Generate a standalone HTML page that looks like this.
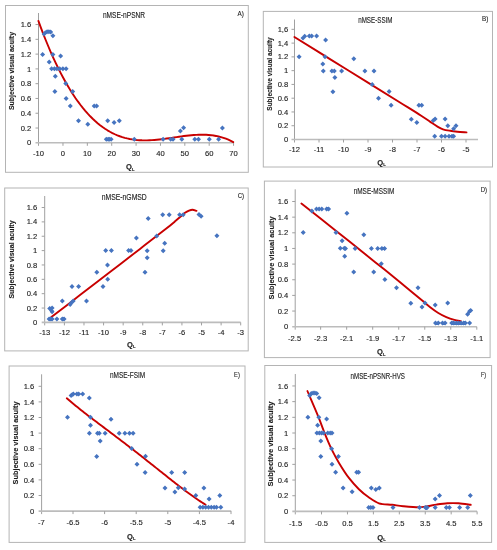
<!DOCTYPE html>
<html><head><meta charset="utf-8"><title>Figure</title>
<style>
html,body{margin:0;padding:0;background:#fff;}
body{width:497px;height:550px;overflow:hidden;}
svg{display:block;font-family:"Liberation Sans",sans-serif;}
#w{width:497px;height:550px;will-change:transform;}
text{stroke:#222;stroke-width:0.12px;}
</style></head>
<body>
<div id="w">
<svg width="497" height="550" viewBox="0 0 497 550">
<rect width="497" height="550" fill="#fff"/>
<rect x="5.5" y="5.5" width="242.8" height="166.8" fill="#fff" stroke="#b4b4b4" stroke-width="1"/>
<path d="M38.5 13 V145.8" stroke="#a0a0a0" stroke-width="1" fill="none"/>
<path d="M35.5 142.8 H233.8" stroke="#bcbcbc" stroke-width="1.6" fill="none"/>
<text x="31.2" y="145.4" font-size="7.6" text-anchor="end" fill="#1a1a1a">0</text>
<text x="31.2" y="130.62" font-size="7.6" text-anchor="end" fill="#1a1a1a">0.2</text>
<text x="31.2" y="115.84" font-size="7.6" text-anchor="end" fill="#1a1a1a">0.4</text>
<text x="31.2" y="101.06" font-size="7.6" text-anchor="end" fill="#1a1a1a">0.6</text>
<text x="31.2" y="86.28" font-size="7.6" text-anchor="end" fill="#1a1a1a">0.8</text>
<text x="31.2" y="71.5" font-size="7.6" text-anchor="end" fill="#1a1a1a">1</text>
<text x="31.2" y="56.72" font-size="7.6" text-anchor="end" fill="#1a1a1a">1.2</text>
<text x="31.2" y="41.94" font-size="7.6" text-anchor="end" fill="#1a1a1a">1.4</text>
<text x="31.2" y="27.16" font-size="7.6" text-anchor="end" fill="#1a1a1a">1.6</text>
<text x="38.6" y="155.8" font-size="7.6" text-anchor="middle" fill="#1a1a1a">-10</text>
<text x="62.97" y="155.8" font-size="7.6" text-anchor="middle" fill="#1a1a1a">0</text>
<text x="87.34" y="155.8" font-size="7.6" text-anchor="middle" fill="#1a1a1a">10</text>
<text x="111.71" y="155.8" font-size="7.6" text-anchor="middle" fill="#1a1a1a">20</text>
<text x="136.08" y="155.8" font-size="7.6" text-anchor="middle" fill="#1a1a1a">30</text>
<text x="160.45" y="155.8" font-size="7.6" text-anchor="middle" fill="#1a1a1a">40</text>
<text x="184.82" y="155.8" font-size="7.6" text-anchor="middle" fill="#1a1a1a">50</text>
<text x="209.19" y="155.8" font-size="7.6" text-anchor="middle" fill="#1a1a1a">60</text>
<text x="233.56" y="155.8" font-size="7.6" text-anchor="middle" fill="#1a1a1a">70</text>
<path d="M35.5 128.02H38.5 M35.5 113.24H38.5 M35.5 98.46H38.5 M35.5 83.68H38.5 M35.5 68.9H38.5 M35.5 54.12H38.5 M35.5 39.34H38.5 M35.5 24.56H38.5 M62.97 142.8V145.8 M87.34 142.8V145.8 M111.71 142.8V145.8 M136.08 142.8V145.8 M160.45 142.8V145.8 M184.82 142.8V145.8 M209.19 142.8V145.8 M233.56 142.8V145.8" stroke="#a0a0a0" stroke-width="1" fill="none"/>
<text x="124" y="17.7" font-size="8.4" text-anchor="middle" textLength="42.2" lengthAdjust="spacingAndGlyphs" fill="#1a1a1a">nMSE-nPSNR</text>
<text x="240.65" y="16.4" font-size="7.6" text-anchor="middle" textLength="6.3" lengthAdjust="spacingAndGlyphs" fill="#1a1a1a">A)</text>
<text x="0" y="0" font-size="7.6" font-weight="bold" text-anchor="middle" fill="#1a1a1a" textLength="78" lengthAdjust="spacingAndGlyphs" transform="translate(14.2 71) rotate(-90)">Subjective visual acuity</text>
<text x="126" y="169.3" font-size="7.6" font-weight="bold" fill="#1a1a1a">Q<tspan font-size="4.2" dy="1.4">L</tspan></text>
<path d="M38.4 20.91 L40.87 27.6 L43.33 34.05 L45.8 40.27 L48.27 46.25 L50.74 52.01 L53.2 57.55 L55.67 62.87 L58.14 67.97 L60.6 72.86 L63.07 77.54 L65.54 82.02 L68.01 86.29 L70.47 90.37 L72.94 94.25 L75.41 97.94 L77.87 101.44 L80.34 104.76 L82.81 107.9 L85.27 110.86 L87.74 113.66 L90.21 116.28 L92.68 118.74 L95.14 121.05 L97.61 123.2 L100.08 125.19 L102.54 127.04 L105.01 128.75 L107.48 130.32 L109.95 131.76 L112.41 133.06 L114.88 134.25 L117.35 135.31 L119.81 136.25 L122.28 137.09 L124.75 137.81 L127.22 138.44 L129.68 138.97 L132.15 139.4 L134.62 139.75 L137.08 140.02 L139.55 140.2 L142.02 140.32 L144.48 140.36 L146.95 140.35 L149.42 140.27 L151.89 140.14 L154.35 139.97 L156.82 139.75 L159.29 139.49 L161.75 139.2 L164.22 138.89 L166.69 138.55 L169.16 138.2 L171.62 137.83 L174.09 137.46 L176.56 137.1 L179.02 136.73 L181.49 136.38 L183.96 136.05 L186.43 135.74 L188.89 135.46 L191.36 135.21 L193.83 135 L196.29 134.84 L198.76 134.73 L201.23 134.68 L203.69 134.69 L206.16 134.78 L208.63 134.94 L211.1 135.18 L213.56 135.51 L216.03 135.94 L218.5 136.46 L220.96 137.1 L223.43 137.85 L225.9 138.71 L228.37 139.71 L230.83 140.84 L233.3 142.1" stroke="#c80000" stroke-width="1.9" fill="none" stroke-linecap="round" stroke-linejoin="round"/>
<path d="M42.6 51.9l2.5 2.5l-2.5 2.5l-2.5 -2.5zM44.1 31.4l2.5 2.5l-2.5 2.5l-2.5 -2.5zM45.3 30.2l2.5 2.5l-2.5 2.5l-2.5 -2.5zM47.1 29.3l2.5 2.5l-2.5 2.5l-2.5 -2.5zM48.9 29.3l2.5 2.5l-2.5 2.5l-2.5 -2.5zM50.7 29.6l2.5 2.5l-2.5 2.5l-2.5 -2.5zM52.9 33.2l2.5 2.5l-2.5 2.5l-2.5 -2.5zM52.9 51.9l2.5 2.5l-2.5 2.5l-2.5 -2.5zM60.6 53.4l2.5 2.5l-2.5 2.5l-2.5 -2.5zM49.2 59.4l2.5 2.5l-2.5 2.5l-2.5 -2.5zM51.6 66.3l2.5 2.5l-2.5 2.5l-2.5 -2.5zM54.4 66.3l2.5 2.5l-2.5 2.5l-2.5 -2.5zM56.9 66.3l2.5 2.5l-2.5 2.5l-2.5 -2.5zM59.7 66.3l2.5 2.5l-2.5 2.5l-2.5 -2.5zM62.9 66.3l2.5 2.5l-2.5 2.5l-2.5 -2.5zM66.1 66.3l2.5 2.5l-2.5 2.5l-2.5 -2.5zM55.3 73.7l2.5 2.5l-2.5 2.5l-2.5 -2.5zM65.8 81.1l2.5 2.5l-2.5 2.5l-2.5 -2.5zM54.9 88.9l2.5 2.5l-2.5 2.5l-2.5 -2.5zM72.7 88.9l2.5 2.5l-2.5 2.5l-2.5 -2.5zM66.1 96.1l2.5 2.5l-2.5 2.5l-2.5 -2.5zM70.3 103.4l2.5 2.5l-2.5 2.5l-2.5 -2.5zM94.2 103.6l2.5 2.5l-2.5 2.5l-2.5 -2.5zM96.6 103.6l2.5 2.5l-2.5 2.5l-2.5 -2.5zM78.5 118.2l2.5 2.5l-2.5 2.5l-2.5 -2.5zM87.8 121.8l2.5 2.5l-2.5 2.5l-2.5 -2.5zM107.7 118.2l2.5 2.5l-2.5 2.5l-2.5 -2.5zM114.1 120l2.5 2.5l-2.5 2.5l-2.5 -2.5zM119.3 118.2l2.5 2.5l-2.5 2.5l-2.5 -2.5zM106.3 136.8l2.5 2.5l-2.5 2.5l-2.5 -2.5zM108.1 136.8l2.5 2.5l-2.5 2.5l-2.5 -2.5zM109.3 136.8l2.5 2.5l-2.5 2.5l-2.5 -2.5zM111.1 136.8l2.5 2.5l-2.5 2.5l-2.5 -2.5zM134.3 136.8l2.5 2.5l-2.5 2.5l-2.5 -2.5zM163.1 136.8l2.5 2.5l-2.5 2.5l-2.5 -2.5zM170.7 136.8l2.5 2.5l-2.5 2.5l-2.5 -2.5zM173 136.8l2.5 2.5l-2.5 2.5l-2.5 -2.5zM181.8 136.8l2.5 2.5l-2.5 2.5l-2.5 -2.5zM194.8 136.8l2.5 2.5l-2.5 2.5l-2.5 -2.5zM198.5 136.8l2.5 2.5l-2.5 2.5l-2.5 -2.5zM209.3 136.8l2.5 2.5l-2.5 2.5l-2.5 -2.5zM218.6 136.8l2.5 2.5l-2.5 2.5l-2.5 -2.5zM180.4 128.5l2.5 2.5l-2.5 2.5l-2.5 -2.5zM183.6 125.3l2.5 2.5l-2.5 2.5l-2.5 -2.5zM222.4 125.5l2.5 2.5l-2.5 2.5l-2.5 -2.5z" fill="#4674c0"/>
<rect x="263.3" y="11.4" width="229.2" height="155.6" fill="#fff" stroke="#b4b4b4" stroke-width="1"/>
<path d="M294.5 19.5 V142.5" stroke="#a0a0a0" stroke-width="1" fill="none"/>
<path d="M291.5 139.5 H478" stroke="#bcbcbc" stroke-width="1.6" fill="none"/>
<text x="288.2" y="142.1" font-size="7.6" text-anchor="end" fill="#1a1a1a">0</text>
<text x="288.2" y="128.33" font-size="7.6" text-anchor="end" fill="#1a1a1a">0.2</text>
<text x="288.2" y="114.56" font-size="7.6" text-anchor="end" fill="#1a1a1a">0.4</text>
<text x="288.2" y="100.79" font-size="7.6" text-anchor="end" fill="#1a1a1a">0.6</text>
<text x="288.2" y="87.02" font-size="7.6" text-anchor="end" fill="#1a1a1a">0.8</text>
<text x="288.2" y="73.25" font-size="7.6" text-anchor="end" fill="#1a1a1a">1</text>
<text x="288.2" y="59.48" font-size="7.6" text-anchor="end" fill="#1a1a1a">1.2</text>
<text x="288.2" y="45.71" font-size="7.6" text-anchor="end" fill="#1a1a1a">1,4</text>
<text x="288.2" y="31.94" font-size="7.6" text-anchor="end" fill="#1a1a1a">1,6</text>
<text x="294.5" y="152.2" font-size="7.6" text-anchor="middle" fill="#1a1a1a">-12</text>
<text x="319" y="152.2" font-size="7.6" text-anchor="middle" fill="#1a1a1a">-11</text>
<text x="343.5" y="152.2" font-size="7.6" text-anchor="middle" fill="#1a1a1a">-10</text>
<text x="368" y="152.2" font-size="7.6" text-anchor="middle" fill="#1a1a1a">-9</text>
<text x="392.5" y="152.2" font-size="7.6" text-anchor="middle" fill="#1a1a1a">-8</text>
<text x="417" y="152.2" font-size="7.6" text-anchor="middle" fill="#1a1a1a">-7</text>
<text x="441.5" y="152.2" font-size="7.6" text-anchor="middle" fill="#1a1a1a">-6</text>
<text x="466" y="152.2" font-size="7.6" text-anchor="middle" fill="#1a1a1a">-5</text>
<path d="M291.5 125.73H294.5 M291.5 111.96H294.5 M291.5 98.19H294.5 M291.5 84.42H294.5 M291.5 70.65H294.5 M291.5 56.88H294.5 M291.5 43.11H294.5 M291.5 29.34H294.5 M319 139.5V142.5 M343.5 139.5V142.5 M368 139.5V142.5 M392.5 139.5V142.5 M417 139.5V142.5 M441.5 139.5V142.5 M466 139.5V142.5" stroke="#a0a0a0" stroke-width="1" fill="none"/>
<text x="375.35" y="22.7" font-size="8.4" text-anchor="middle" textLength="34.3" lengthAdjust="spacingAndGlyphs" fill="#1a1a1a">nMSE-SSIM</text>
<text x="485.15" y="21.1" font-size="7.6" text-anchor="middle" textLength="6.3" lengthAdjust="spacingAndGlyphs" fill="#1a1a1a">B)</text>
<text x="0" y="0" font-size="7.6" font-weight="bold" text-anchor="middle" fill="#1a1a1a" textLength="73.4" lengthAdjust="spacingAndGlyphs" transform="translate(272 74) rotate(-90)">Subjective visual acuity</text>
<text x="377.3" y="164.8" font-size="7.6" font-weight="bold" fill="#1a1a1a">Q<tspan font-size="4.2" dy="1.4">L</tspan></text>
<path d="M294.4 37 C300.33 40.68 317.4 51.28 330 59.1 C342.6 66.92 358.33 76.67 370 83.9 C381.67 91.13 391.47 97.2 400 102.5 C408.53 107.8 416.15 112.47 421.2 115.7 C426.25 118.93 427.58 120.08 430.3 121.9 C433.02 123.72 435.38 125.37 437.5 126.6 C439.62 127.83 440.88 128.6 443 129.3 C445.12 130 447.8 130.4 450.2 130.8 C452.6 131.2 454.68 131.43 457.4 131.7 C460.12 131.97 464.98 132.28 466.5 132.4" stroke="#c80000" stroke-width="1.9" fill="none" stroke-linecap="round" stroke-linejoin="round"/>
<path d="M299.1 54.3l2.5 2.5l-2.5 2.5l-2.5 -2.5zM303 35.6l2.5 2.5l-2.5 2.5l-2.5 -2.5zM304.7 33.8l2.5 2.5l-2.5 2.5l-2.5 -2.5zM309.3 33.6l2.5 2.5l-2.5 2.5l-2.5 -2.5zM311.7 33.6l2.5 2.5l-2.5 2.5l-2.5 -2.5zM316.6 33.6l2.5 2.5l-2.5 2.5l-2.5 -2.5zM325.6 37.4l2.5 2.5l-2.5 2.5l-2.5 -2.5zM325 54.3l2.5 2.5l-2.5 2.5l-2.5 -2.5zM322.8 61.6l2.5 2.5l-2.5 2.5l-2.5 -2.5zM323.3 68.4l2.5 2.5l-2.5 2.5l-2.5 -2.5zM331.9 68.4l2.5 2.5l-2.5 2.5l-2.5 -2.5zM334.3 68.4l2.5 2.5l-2.5 2.5l-2.5 -2.5zM341.6 68.4l2.5 2.5l-2.5 2.5l-2.5 -2.5zM334.9 75l2.5 2.5l-2.5 2.5l-2.5 -2.5zM332.9 89.2l2.5 2.5l-2.5 2.5l-2.5 -2.5zM353.8 56.2l2.5 2.5l-2.5 2.5l-2.5 -2.5zM364.9 68.5l2.5 2.5l-2.5 2.5l-2.5 -2.5zM374 68.5l2.5 2.5l-2.5 2.5l-2.5 -2.5zM372.2 82.1l2.5 2.5l-2.5 2.5l-2.5 -2.5zM378.5 95.7l2.5 2.5l-2.5 2.5l-2.5 -2.5zM389.1 89l2.5 2.5l-2.5 2.5l-2.5 -2.5zM391.1 102.8l2.5 2.5l-2.5 2.5l-2.5 -2.5zM418.9 102.8l2.5 2.5l-2.5 2.5l-2.5 -2.5zM421.7 102.8l2.5 2.5l-2.5 2.5l-2.5 -2.5zM411.3 116.8l2.5 2.5l-2.5 2.5l-2.5 -2.5zM416.8 120.1l2.5 2.5l-2.5 2.5l-2.5 -2.5zM433.3 118l2.5 2.5l-2.5 2.5l-2.5 -2.5zM435.1 116.6l2.5 2.5l-2.5 2.5l-2.5 -2.5zM445.1 116.6l2.5 2.5l-2.5 2.5l-2.5 -2.5zM447.8 123.2l2.5 2.5l-2.5 2.5l-2.5 -2.5zM453.6 126.2l2.5 2.5l-2.5 2.5l-2.5 -2.5zM456 123.2l2.5 2.5l-2.5 2.5l-2.5 -2.5zM434.7 133.7l2.5 2.5l-2.5 2.5l-2.5 -2.5zM441.5 133.7l2.5 2.5l-2.5 2.5l-2.5 -2.5zM445.1 133.7l2.5 2.5l-2.5 2.5l-2.5 -2.5zM449 133.7l2.5 2.5l-2.5 2.5l-2.5 -2.5zM452 133.7l2.5 2.5l-2.5 2.5l-2.5 -2.5zM453.6 133.7l2.5 2.5l-2.5 2.5l-2.5 -2.5z" fill="#4674c0"/>
<rect x="4.7" y="188" width="243.5" height="162.9" fill="#fff" stroke="#b4b4b4" stroke-width="1"/>
<path d="M44.7 196 V325.4" stroke="#a0a0a0" stroke-width="1" fill="none"/>
<path d="M41.7 322.4 H240.7" stroke="#bcbcbc" stroke-width="1.6" fill="none"/>
<text x="37.2" y="325" font-size="7.6" text-anchor="end" fill="#1a1a1a">0</text>
<text x="37.2" y="310.64" font-size="7.6" text-anchor="end" fill="#1a1a1a">0.2</text>
<text x="37.2" y="296.28" font-size="7.6" text-anchor="end" fill="#1a1a1a">0.4</text>
<text x="37.2" y="281.92" font-size="7.6" text-anchor="end" fill="#1a1a1a">0.6</text>
<text x="37.2" y="267.56" font-size="7.6" text-anchor="end" fill="#1a1a1a">0.8</text>
<text x="37.2" y="253.2" font-size="7.6" text-anchor="end" fill="#1a1a1a">1</text>
<text x="37.2" y="238.84" font-size="7.6" text-anchor="end" fill="#1a1a1a">1.2</text>
<text x="37.2" y="224.48" font-size="7.6" text-anchor="end" fill="#1a1a1a">1.4</text>
<text x="37.2" y="210.12" font-size="7.6" text-anchor="end" fill="#1a1a1a">1.6</text>
<text x="44.8" y="335.2" font-size="7.6" text-anchor="middle" fill="#1a1a1a">-13</text>
<text x="64.39" y="335.2" font-size="7.6" text-anchor="middle" fill="#1a1a1a">-12</text>
<text x="83.98" y="335.2" font-size="7.6" text-anchor="middle" fill="#1a1a1a">-11</text>
<text x="103.57" y="335.2" font-size="7.6" text-anchor="middle" fill="#1a1a1a">-10</text>
<text x="123.16" y="335.2" font-size="7.6" text-anchor="middle" fill="#1a1a1a">-9</text>
<text x="142.75" y="335.2" font-size="7.6" text-anchor="middle" fill="#1a1a1a">-8</text>
<text x="162.34" y="335.2" font-size="7.6" text-anchor="middle" fill="#1a1a1a">-7</text>
<text x="181.93" y="335.2" font-size="7.6" text-anchor="middle" fill="#1a1a1a">-6</text>
<text x="201.52" y="335.2" font-size="7.6" text-anchor="middle" fill="#1a1a1a">-5</text>
<text x="221.11" y="335.2" font-size="7.6" text-anchor="middle" fill="#1a1a1a">-4</text>
<text x="240.7" y="335.2" font-size="7.6" text-anchor="middle" fill="#1a1a1a">-3</text>
<path d="M41.7 308.04H44.7 M41.7 293.68H44.7 M41.7 279.32H44.7 M41.7 264.96H44.7 M41.7 250.6H44.7 M41.7 236.24H44.7 M41.7 221.88H44.7 M41.7 207.52H44.7 M64.39 322.4V325.4 M83.98 322.4V325.4 M103.57 322.4V325.4 M123.16 322.4V325.4 M142.75 322.4V325.4 M162.34 322.4V325.4 M181.93 322.4V325.4 M201.52 322.4V325.4 M221.11 322.4V325.4 M240.7 322.4V325.4" stroke="#a0a0a0" stroke-width="1" fill="none"/>
<text x="124.25" y="199.6" font-size="8.4" text-anchor="middle" textLength="45.1" lengthAdjust="spacingAndGlyphs" fill="#1a1a1a">nMSE-nGMSD</text>
<text x="240.9" y="198" font-size="7.6" text-anchor="middle" textLength="6.4" lengthAdjust="spacingAndGlyphs" fill="#1a1a1a">C)</text>
<text x="0" y="0" font-size="7.6" font-weight="bold" text-anchor="middle" fill="#1a1a1a" textLength="78" lengthAdjust="spacingAndGlyphs" transform="translate(14 259.5) rotate(-90)">Subjective visual acuity</text>
<text x="127" y="346.5" font-size="7.6" font-weight="bold" fill="#1a1a1a">Q<tspan font-size="4.2" dy="1.4">L</tspan></text>
<path d="M51.4 317.1 C56.17 313.43 70.23 302.62 80 295.1 C89.77 287.58 100 279.7 110 272 C120 264.3 130.83 255.97 140 248.9 C149.17 241.83 159 234.32 165 229.6 C171 224.88 173.33 222.83 176 220.6 C178.67 218.37 179.5 217.5 181 216.2 C182.5 214.9 183.67 213.73 185 212.8 C186.33 211.87 187.75 211.12 189 210.6 C190.25 210.08 191.25 209.67 192.5 209.7 C193.75 209.73 195.83 210.62 196.5 210.8" stroke="#c80000" stroke-width="1.9" fill="none" stroke-linecap="round" stroke-linejoin="round"/>
<path d="M49.1 316.4l2.5 2.5l-2.5 2.5l-2.5 -2.5zM50.9 316.4l2.5 2.5l-2.5 2.5l-2.5 -2.5zM52.1 316.4l2.5 2.5l-2.5 2.5l-2.5 -2.5zM56.9 316.4l2.5 2.5l-2.5 2.5l-2.5 -2.5zM62.3 316.4l2.5 2.5l-2.5 2.5l-2.5 -2.5zM64.1 316.4l2.5 2.5l-2.5 2.5l-2.5 -2.5zM49.7 305.9l2.5 2.5l-2.5 2.5l-2.5 -2.5zM52.1 305.5l2.5 2.5l-2.5 2.5l-2.5 -2.5zM51.5 307.9l2.5 2.5l-2.5 2.5l-2.5 -2.5zM52.1 309.2l2.5 2.5l-2.5 2.5l-2.5 -2.5zM62.3 298.6l2.5 2.5l-2.5 2.5l-2.5 -2.5zM70.2 301.9l2.5 2.5l-2.5 2.5l-2.5 -2.5zM71.6 300.1l2.5 2.5l-2.5 2.5l-2.5 -2.5zM73.2 298.6l2.5 2.5l-2.5 2.5l-2.5 -2.5zM72 284l2.5 2.5l-2.5 2.5l-2.5 -2.5zM78.6 284l2.5 2.5l-2.5 2.5l-2.5 -2.5zM86.5 298.6l2.5 2.5l-2.5 2.5l-2.5 -2.5zM96.8 269.8l2.5 2.5l-2.5 2.5l-2.5 -2.5zM105.7 248.1l2.5 2.5l-2.5 2.5l-2.5 -2.5zM111.4 248.1l2.5 2.5l-2.5 2.5l-2.5 -2.5zM107.5 262.5l2.5 2.5l-2.5 2.5l-2.5 -2.5zM107.7 276.7l2.5 2.5l-2.5 2.5l-2.5 -2.5zM103 284l2.5 2.5l-2.5 2.5l-2.5 -2.5zM128.6 248.1l2.5 2.5l-2.5 2.5l-2.5 -2.5zM131 248.1l2.5 2.5l-2.5 2.5l-2.5 -2.5zM147.2 248.2l2.5 2.5l-2.5 2.5l-2.5 -2.5zM147.2 255.2l2.5 2.5l-2.5 2.5l-2.5 -2.5zM145 269.8l2.5 2.5l-2.5 2.5l-2.5 -2.5zM148.2 215.9l2.5 2.5l-2.5 2.5l-2.5 -2.5zM162.7 212.2l2.5 2.5l-2.5 2.5l-2.5 -2.5zM169.2 212.2l2.5 2.5l-2.5 2.5l-2.5 -2.5zM179.6 212.2l2.5 2.5l-2.5 2.5l-2.5 -2.5zM183.2 212.2l2.5 2.5l-2.5 2.5l-2.5 -2.5zM199 212.1l2.5 2.5l-2.5 2.5l-2.5 -2.5zM201.1 213.8l2.5 2.5l-2.5 2.5l-2.5 -2.5zM156.7 233.5l2.5 2.5l-2.5 2.5l-2.5 -2.5zM136.4 235.6l2.5 2.5l-2.5 2.5l-2.5 -2.5zM164.7 240.7l2.5 2.5l-2.5 2.5l-2.5 -2.5zM163.2 248.3l2.5 2.5l-2.5 2.5l-2.5 -2.5zM216.9 233.3l2.5 2.5l-2.5 2.5l-2.5 -2.5z" fill="#4674c0"/>
<rect x="264.4" y="181.1" width="225.7" height="176.5" fill="#fff" stroke="#b4b4b4" stroke-width="1"/>
<path d="M295.2 189.3 V329.7" stroke="#a0a0a0" stroke-width="1" fill="none"/>
<path d="M292.2 326.7 H476.8" stroke="#bcbcbc" stroke-width="1.6" fill="none"/>
<text x="288.2" y="329.3" font-size="7.6" text-anchor="end" fill="#1a1a1a">0</text>
<text x="288.2" y="313.65" font-size="7.6" text-anchor="end" fill="#1a1a1a">0.2</text>
<text x="288.2" y="298" font-size="7.6" text-anchor="end" fill="#1a1a1a">0.4</text>
<text x="288.2" y="282.35" font-size="7.6" text-anchor="end" fill="#1a1a1a">0.6</text>
<text x="288.2" y="266.7" font-size="7.6" text-anchor="end" fill="#1a1a1a">0.8</text>
<text x="288.2" y="251.05" font-size="7.6" text-anchor="end" fill="#1a1a1a">1</text>
<text x="288.2" y="235.4" font-size="7.6" text-anchor="end" fill="#1a1a1a">1.2</text>
<text x="288.2" y="219.75" font-size="7.6" text-anchor="end" fill="#1a1a1a">1.4</text>
<text x="288.2" y="204.1" font-size="7.6" text-anchor="end" fill="#1a1a1a">1.6</text>
<text x="294.6" y="341.2" font-size="7.6" text-anchor="middle" fill="#1a1a1a">-2.5</text>
<text x="320.63" y="341.2" font-size="7.6" text-anchor="middle" fill="#1a1a1a">-2.3</text>
<text x="346.66" y="341.2" font-size="7.6" text-anchor="middle" fill="#1a1a1a">-2.1</text>
<text x="372.69" y="341.2" font-size="7.6" text-anchor="middle" fill="#1a1a1a">-1.9</text>
<text x="398.72" y="341.2" font-size="7.6" text-anchor="middle" fill="#1a1a1a">-1.7</text>
<text x="424.75" y="341.2" font-size="7.6" text-anchor="middle" fill="#1a1a1a">-1.5</text>
<text x="450.78" y="341.2" font-size="7.6" text-anchor="middle" fill="#1a1a1a">-1.3</text>
<text x="476.81" y="341.2" font-size="7.6" text-anchor="middle" fill="#1a1a1a">-1.1</text>
<path d="M292.2 311.05H295.2 M292.2 295.4H295.2 M292.2 279.75H295.2 M292.2 264.1H295.2 M292.2 248.45H295.2 M292.2 232.8H295.2 M292.2 217.15H295.2 M292.2 201.5H295.2 M320.63 326.7V329.7 M346.66 326.7V329.7 M372.69 326.7V329.7 M398.72 326.7V329.7 M424.75 326.7V329.7 M450.78 326.7V329.7 M476.81 326.7V329.7" stroke="#a0a0a0" stroke-width="1" fill="none"/>
<text x="374.05" y="193.5" font-size="8.4" text-anchor="middle" textLength="40.7" lengthAdjust="spacingAndGlyphs" fill="#1a1a1a">nMSE-MSSIM</text>
<text x="483.85" y="192.2" font-size="7.6" text-anchor="middle" textLength="6.3" lengthAdjust="spacingAndGlyphs" fill="#1a1a1a">D)</text>
<text x="0" y="0" font-size="7.6" font-weight="bold" text-anchor="middle" fill="#1a1a1a" textLength="83" lengthAdjust="spacingAndGlyphs" transform="translate(273.7 258) rotate(-90)">Subjective visual acuity</text>
<text x="377" y="354.3" font-size="7.6" font-weight="bold" fill="#1a1a1a">Q<tspan font-size="4.2" dy="1.4">L</tspan></text>
<path d="M301.4 203.5 C307.03 207.95 326.2 223.07 335.2 230.2 C344.2 237.33 348.68 240.93 355.4 246.3 C362.12 251.67 369.73 257.78 375.5 262.4 C381.27 267.02 384.9 269.87 390 274 C395.1 278.13 400.73 282.77 406.1 287.2 C411.47 291.63 418.18 297.27 422.2 300.6 C426.22 303.93 427.52 305.13 430.2 307.2 C432.88 309.27 435.62 311.35 438.3 313 C440.98 314.65 443.62 315.95 446.3 317.1 C448.98 318.25 451.98 319.22 454.4 319.9 C456.82 320.58 459.73 320.98 460.8 321.2" stroke="#c80000" stroke-width="1.9" fill="none" stroke-linecap="round" stroke-linejoin="round"/>
<path d="M303.2 230l2.5 2.5l-2.5 2.5l-2.5 -2.5zM311.9 208.6l2.5 2.5l-2.5 2.5l-2.5 -2.5zM316.5 206.6l2.5 2.5l-2.5 2.5l-2.5 -2.5zM319.1 206.6l2.5 2.5l-2.5 2.5l-2.5 -2.5zM321.8 206.6l2.5 2.5l-2.5 2.5l-2.5 -2.5zM326.6 206.6l2.5 2.5l-2.5 2.5l-2.5 -2.5zM328.6 206.6l2.5 2.5l-2.5 2.5l-2.5 -2.5zM346.9 210.7l2.5 2.5l-2.5 2.5l-2.5 -2.5zM336 230.1l2.5 2.5l-2.5 2.5l-2.5 -2.5zM342.1 238.2l2.5 2.5l-2.5 2.5l-2.5 -2.5zM340.3 245.7l2.5 2.5l-2.5 2.5l-2.5 -2.5zM344.3 245.7l2.5 2.5l-2.5 2.5l-2.5 -2.5zM345.5 245.9l2.5 2.5l-2.5 2.5l-2.5 -2.5zM355.1 245.9l2.5 2.5l-2.5 2.5l-2.5 -2.5zM344.7 253.7l2.5 2.5l-2.5 2.5l-2.5 -2.5zM363.8 232.2l2.5 2.5l-2.5 2.5l-2.5 -2.5zM371.4 245.9l2.5 2.5l-2.5 2.5l-2.5 -2.5zM377.7 245.9l2.5 2.5l-2.5 2.5l-2.5 -2.5zM381.9 245.9l2.5 2.5l-2.5 2.5l-2.5 -2.5zM384.6 245.9l2.5 2.5l-2.5 2.5l-2.5 -2.5zM381.3 261.3l2.5 2.5l-2.5 2.5l-2.5 -2.5zM353.7 269.4l2.5 2.5l-2.5 2.5l-2.5 -2.5zM373.7 269.4l2.5 2.5l-2.5 2.5l-2.5 -2.5zM384.9 277l2.5 2.5l-2.5 2.5l-2.5 -2.5zM396.5 285.3l2.5 2.5l-2.5 2.5l-2.5 -2.5zM418 285.3l2.5 2.5l-2.5 2.5l-2.5 -2.5zM410.8 300.7l2.5 2.5l-2.5 2.5l-2.5 -2.5zM425 300.6l2.5 2.5l-2.5 2.5l-2.5 -2.5zM422 304.6l2.5 2.5l-2.5 2.5l-2.5 -2.5zM435.2 302.5l2.5 2.5l-2.5 2.5l-2.5 -2.5zM447.7 300.5l2.5 2.5l-2.5 2.5l-2.5 -2.5zM469.6 308.7l2.5 2.5l-2.5 2.5l-2.5 -2.5zM470.7 308l2.5 2.5l-2.5 2.5l-2.5 -2.5zM467.6 311.7l2.5 2.5l-2.5 2.5l-2.5 -2.5zM435.5 320.5l2.5 2.5l-2.5 2.5l-2.5 -2.5zM438.3 320.5l2.5 2.5l-2.5 2.5l-2.5 -2.5zM442.5 320.5l2.5 2.5l-2.5 2.5l-2.5 -2.5zM445.1 320.5l2.5 2.5l-2.5 2.5l-2.5 -2.5zM451.7 320.5l2.5 2.5l-2.5 2.5l-2.5 -2.5zM453.8 320.5l2.5 2.5l-2.5 2.5l-2.5 -2.5zM456.3 320.5l2.5 2.5l-2.5 2.5l-2.5 -2.5zM458.7 320.5l2.5 2.5l-2.5 2.5l-2.5 -2.5zM461.1 320.5l2.5 2.5l-2.5 2.5l-2.5 -2.5zM463.7 320.5l2.5 2.5l-2.5 2.5l-2.5 -2.5zM465.4 320.5l2.5 2.5l-2.5 2.5l-2.5 -2.5zM469.6 320.5l2.5 2.5l-2.5 2.5l-2.5 -2.5z" fill="#4674c0"/>
<rect x="9.1" y="366" width="235.9" height="176.4" fill="#fff" stroke="#b4b4b4" stroke-width="1"/>
<path d="M41.6 374.3 V514.1" stroke="#a0a0a0" stroke-width="1" fill="none"/>
<path d="M38.6 511.1 H231.2" stroke="#bcbcbc" stroke-width="1.6" fill="none"/>
<text x="34.2" y="513.7" font-size="7.6" text-anchor="end" fill="#1a1a1a">0</text>
<text x="34.2" y="498.1" font-size="7.6" text-anchor="end" fill="#1a1a1a">0.2</text>
<text x="34.2" y="482.5" font-size="7.6" text-anchor="end" fill="#1a1a1a">0.4</text>
<text x="34.2" y="466.9" font-size="7.6" text-anchor="end" fill="#1a1a1a">0.6</text>
<text x="34.2" y="451.3" font-size="7.6" text-anchor="end" fill="#1a1a1a">0.8</text>
<text x="34.2" y="435.7" font-size="7.6" text-anchor="end" fill="#1a1a1a">1</text>
<text x="34.2" y="420.1" font-size="7.6" text-anchor="end" fill="#1a1a1a">1.2</text>
<text x="34.2" y="404.5" font-size="7.6" text-anchor="end" fill="#1a1a1a">1.4</text>
<text x="34.2" y="388.9" font-size="7.6" text-anchor="end" fill="#1a1a1a">1.6</text>
<text x="41.4" y="525.2" font-size="7.6" text-anchor="middle" fill="#1a1a1a">-7</text>
<text x="73" y="525.2" font-size="7.6" text-anchor="middle" fill="#1a1a1a">-6.5</text>
<text x="104.6" y="525.2" font-size="7.6" text-anchor="middle" fill="#1a1a1a">-6</text>
<text x="136.2" y="525.2" font-size="7.6" text-anchor="middle" fill="#1a1a1a">-5.5</text>
<text x="167.8" y="525.2" font-size="7.6" text-anchor="middle" fill="#1a1a1a">-5</text>
<text x="199.4" y="525.2" font-size="7.6" text-anchor="middle" fill="#1a1a1a">-4.5</text>
<text x="231" y="525.2" font-size="7.6" text-anchor="middle" fill="#1a1a1a">-4</text>
<path d="M38.6 495.5H41.6 M38.6 479.9H41.6 M38.6 464.3H41.6 M38.6 448.7H41.6 M38.6 433.1H41.6 M38.6 417.5H41.6 M38.6 401.9H41.6 M38.6 386.3H41.6 M73 511.1V514.1 M104.6 511.1V514.1 M136.2 511.1V514.1 M167.8 511.1V514.1 M199.4 511.1V514.1 M231 511.1V514.1" stroke="#a0a0a0" stroke-width="1" fill="none"/>
<text x="127.6" y="377.7" font-size="8.4" text-anchor="middle" textLength="35.4" lengthAdjust="spacingAndGlyphs" fill="#1a1a1a">nMSE-FSIM</text>
<text x="237" y="377.3" font-size="7.6" text-anchor="middle" textLength="5.8" lengthAdjust="spacingAndGlyphs" fill="#1a1a1a">E)</text>
<text x="0" y="0" font-size="7.6" font-weight="bold" text-anchor="middle" fill="#1a1a1a" textLength="83" lengthAdjust="spacingAndGlyphs" transform="translate(18.1 443) rotate(-90)">Subjective visual acuity</text>
<text x="127" y="539" font-size="7.6" font-weight="bold" fill="#1a1a1a">Q<tspan font-size="4.2" dy="1.4">L</tspan></text>
<path d="M66.8 398.31 L68.56 399.81 L70.31 401.3 L72.07 402.77 L73.83 404.22 L75.58 405.66 L77.34 407.08 L79.1 408.49 L80.86 409.89 L82.61 411.28 L84.37 412.65 L86.13 414.02 L87.88 415.38 L89.64 416.73 L91.4 418.08 L93.15 419.42 L94.91 420.75 L96.67 422.08 L98.43 423.41 L100.18 424.74 L101.94 426.06 L103.7 427.38 L105.45 428.71 L107.21 430.03 L108.97 431.35 L110.72 432.67 L112.48 434 L114.24 435.32 L115.99 436.65 L117.75 437.98 L119.51 439.32 L121.27 440.65 L123.02 441.99 L124.78 443.34 L126.54 444.68 L128.29 446.03 L130.05 447.39 L131.81 448.75 L133.56 450.11 L135.32 451.47 L137.08 452.84 L138.84 454.22 L140.59 455.6 L142.35 456.98 L144.11 458.36 L145.86 459.75 L147.62 461.14 L149.38 462.53 L151.13 463.93 L152.89 465.32 L154.65 466.72 L156.41 468.12 L158.16 469.52 L159.92 470.92 L161.68 472.32 L163.43 473.72 L165.19 475.11 L166.95 476.51 L168.7 477.9 L170.46 479.28 L172.22 480.67 L173.97 482.04 L175.73 483.41 L177.49 484.78 L179.25 486.13 L181 487.48 L182.76 488.81 L184.52 490.14 L186.27 491.45 L188.03 492.75 L189.79 494.04 L191.54 495.31 L193.3 496.56 L195.06 497.8 L196.82 499.02 L198.57 500.21 L200.33 501.39 L202.09 502.54 L203.84 503.67 L205.6 504.77" stroke="#c80000" stroke-width="1.9" fill="none" stroke-linecap="round" stroke-linejoin="round"/>
<path d="M67.5 414.8l2.5 2.5l-2.5 2.5l-2.5 -2.5zM71.1 393.1l2.5 2.5l-2.5 2.5l-2.5 -2.5zM72.1 392.2l2.5 2.5l-2.5 2.5l-2.5 -2.5zM73.3 391.4l2.5 2.5l-2.5 2.5l-2.5 -2.5zM76.9 391.4l2.5 2.5l-2.5 2.5l-2.5 -2.5zM78.7 391.6l2.5 2.5l-2.5 2.5l-2.5 -2.5zM82.7 391.4l2.5 2.5l-2.5 2.5l-2.5 -2.5zM89.3 395.5l2.5 2.5l-2.5 2.5l-2.5 -2.5zM90.5 414.8l2.5 2.5l-2.5 2.5l-2.5 -2.5zM111 416.8l2.5 2.5l-2.5 2.5l-2.5 -2.5zM90.5 422.7l2.5 2.5l-2.5 2.5l-2.5 -2.5zM89.4 430.7l2.5 2.5l-2.5 2.5l-2.5 -2.5zM97.5 430.7l2.5 2.5l-2.5 2.5l-2.5 -2.5zM99.3 430.7l2.5 2.5l-2.5 2.5l-2.5 -2.5zM105.1 430.7l2.5 2.5l-2.5 2.5l-2.5 -2.5zM100.2 438.6l2.5 2.5l-2.5 2.5l-2.5 -2.5zM96.7 454l2.5 2.5l-2.5 2.5l-2.5 -2.5zM119.2 430.7l2.5 2.5l-2.5 2.5l-2.5 -2.5zM124.9 430.7l2.5 2.5l-2.5 2.5l-2.5 -2.5zM129.5 430.7l2.5 2.5l-2.5 2.5l-2.5 -2.5zM133.1 430.7l2.5 2.5l-2.5 2.5l-2.5 -2.5zM131.7 446.1l2.5 2.5l-2.5 2.5l-2.5 -2.5zM137 461.7l2.5 2.5l-2.5 2.5l-2.5 -2.5zM145.5 453.8l2.5 2.5l-2.5 2.5l-2.5 -2.5zM145.1 469.9l2.5 2.5l-2.5 2.5l-2.5 -2.5zM171.7 469.9l2.5 2.5l-2.5 2.5l-2.5 -2.5zM184.7 469.9l2.5 2.5l-2.5 2.5l-2.5 -2.5zM165 485.4l2.5 2.5l-2.5 2.5l-2.5 -2.5zM178.3 485.3l2.5 2.5l-2.5 2.5l-2.5 -2.5zM174.9 489.4l2.5 2.5l-2.5 2.5l-2.5 -2.5zM184.6 486.4l2.5 2.5l-2.5 2.5l-2.5 -2.5zM195.8 493.1l2.5 2.5l-2.5 2.5l-2.5 -2.5zM203.9 485.4l2.5 2.5l-2.5 2.5l-2.5 -2.5zM209.1 496.4l2.5 2.5l-2.5 2.5l-2.5 -2.5zM219.8 493.1l2.5 2.5l-2.5 2.5l-2.5 -2.5zM200.1 504.8l2.5 2.5l-2.5 2.5l-2.5 -2.5zM202.9 504.8l2.5 2.5l-2.5 2.5l-2.5 -2.5zM205.7 504.8l2.5 2.5l-2.5 2.5l-2.5 -2.5zM208.5 504.8l2.5 2.5l-2.5 2.5l-2.5 -2.5zM211.3 504.8l2.5 2.5l-2.5 2.5l-2.5 -2.5zM214.1 504.8l2.5 2.5l-2.5 2.5l-2.5 -2.5zM216.5 504.8l2.5 2.5l-2.5 2.5l-2.5 -2.5zM220.8 504.8l2.5 2.5l-2.5 2.5l-2.5 -2.5z" fill="#4674c0"/>
<rect x="264.8" y="365.5" width="226.8" height="176.9" fill="#fff" stroke="#b4b4b4" stroke-width="1"/>
<path d="M295.3 374 V514.4" stroke="#a0a0a0" stroke-width="1" fill="none"/>
<path d="M292.3 511.4 H477" stroke="#bcbcbc" stroke-width="1.6" fill="none"/>
<text x="288.2" y="514" font-size="7.6" text-anchor="end" fill="#1a1a1a">0</text>
<text x="288.2" y="498.32" font-size="7.6" text-anchor="end" fill="#1a1a1a">0.2</text>
<text x="288.2" y="482.64" font-size="7.6" text-anchor="end" fill="#1a1a1a">0.4</text>
<text x="288.2" y="466.96" font-size="7.6" text-anchor="end" fill="#1a1a1a">0.6</text>
<text x="288.2" y="451.28" font-size="7.6" text-anchor="end" fill="#1a1a1a">0.8</text>
<text x="288.2" y="435.6" font-size="7.6" text-anchor="end" fill="#1a1a1a">1</text>
<text x="288.2" y="419.92" font-size="7.6" text-anchor="end" fill="#1a1a1a">1.2</text>
<text x="288.2" y="404.24" font-size="7.6" text-anchor="end" fill="#1a1a1a">1.4</text>
<text x="288.2" y="388.56" font-size="7.6" text-anchor="end" fill="#1a1a1a">1.6</text>
<text x="295.6" y="525.7" font-size="7.6" text-anchor="middle" fill="#1a1a1a">-1.5</text>
<text x="321.53" y="525.7" font-size="7.6" text-anchor="middle" fill="#1a1a1a">-0.5</text>
<text x="347.46" y="525.7" font-size="7.6" text-anchor="middle" fill="#1a1a1a">0.5</text>
<text x="373.39" y="525.7" font-size="7.6" text-anchor="middle" fill="#1a1a1a">1.5</text>
<text x="399.32" y="525.7" font-size="7.6" text-anchor="middle" fill="#1a1a1a">2.5</text>
<text x="425.25" y="525.7" font-size="7.6" text-anchor="middle" fill="#1a1a1a">3.5</text>
<text x="451.18" y="525.7" font-size="7.6" text-anchor="middle" fill="#1a1a1a">4.5</text>
<text x="477.11" y="525.7" font-size="7.6" text-anchor="middle" fill="#1a1a1a">5.5</text>
<path d="M292.3 495.72H295.3 M292.3 480.04H295.3 M292.3 464.36H295.3 M292.3 448.68H295.3 M292.3 433H295.3 M292.3 417.32H295.3 M292.3 401.64H295.3 M292.3 385.96H295.3 M321.53 511.4V514.4 M347.46 511.4V514.4 M373.39 511.4V514.4 M399.32 511.4V514.4 M425.25 511.4V514.4 M451.18 511.4V514.4 M477.11 511.4V514.4" stroke="#a0a0a0" stroke-width="1" fill="none"/>
<text x="377.75" y="378.5" font-size="8.4" text-anchor="middle" textLength="54.3" lengthAdjust="spacingAndGlyphs" fill="#1a1a1a">nMSE-nPSNR-HVS</text>
<text x="483.6" y="377.2" font-size="7.6" text-anchor="middle" textLength="5" lengthAdjust="spacingAndGlyphs" fill="#1a1a1a">F)</text>
<text x="0" y="0" font-size="7.6" font-weight="bold" text-anchor="middle" fill="#1a1a1a" textLength="85" lengthAdjust="spacingAndGlyphs" transform="translate(273.3 444) rotate(-90)">Subjective visual acuity</text>
<text x="377.3" y="539.5" font-size="7.6" font-weight="bold" fill="#1a1a1a">Q<tspan font-size="4.2" dy="1.4">L</tspan></text>
<path d="M307.4 391 C309.23 395.3 315.55 409.83 318.4 416.8 C321.25 423.77 322.25 427.28 324.5 432.8 C326.75 438.32 329.43 444.8 331.9 449.9 C334.37 455 336.43 458.68 339.3 463.4 C342.17 468.12 345.83 473.9 349.1 478.2 C352.37 482.5 355.63 486.02 358.9 489.2 C362.17 492.38 365.37 494.95 368.7 497.3 C372.03 499.65 375 502.05 378.9 503.3 C382.8 504.55 388.05 504.32 392.1 504.8 C396.15 505.28 398.77 505.78 403.2 506.2 C407.63 506.62 414.65 507.3 418.7 507.3 C422.75 507.3 424.55 506.65 427.5 506.2 C430.45 505.75 433.07 505.08 436.4 504.6 C439.73 504.12 443.82 503.52 447.5 503.3 C451.18 503.08 454.63 503.05 458.5 503.3 C462.37 503.55 468.67 504.55 470.7 504.8" stroke="#c80000" stroke-width="1.9" fill="none" stroke-linecap="round" stroke-linejoin="round"/>
<path d="M307.9 414.8l2.5 2.5l-2.5 2.5l-2.5 -2.5zM309.7 392.9l2.5 2.5l-2.5 2.5l-2.5 -2.5zM311.3 391l2.5 2.5l-2.5 2.5l-2.5 -2.5zM313.1 390.4l2.5 2.5l-2.5 2.5l-2.5 -2.5zM314.9 390.4l2.5 2.5l-2.5 2.5l-2.5 -2.5zM316.7 391l2.5 2.5l-2.5 2.5l-2.5 -2.5zM319.1 395.3l2.5 2.5l-2.5 2.5l-2.5 -2.5zM318.8 414.8l2.5 2.5l-2.5 2.5l-2.5 -2.5zM326.6 416.6l2.5 2.5l-2.5 2.5l-2.5 -2.5zM317.6 422.7l2.5 2.5l-2.5 2.5l-2.5 -2.5zM316.9 430.4l2.5 2.5l-2.5 2.5l-2.5 -2.5zM319.3 430.4l2.5 2.5l-2.5 2.5l-2.5 -2.5zM321.5 430.4l2.5 2.5l-2.5 2.5l-2.5 -2.5zM323.5 430.4l2.5 2.5l-2.5 2.5l-2.5 -2.5zM327.8 430.4l2.5 2.5l-2.5 2.5l-2.5 -2.5zM330.2 430.4l2.5 2.5l-2.5 2.5l-2.5 -2.5zM332 430.4l2.5 2.5l-2.5 2.5l-2.5 -2.5zM320.8 438.6l2.5 2.5l-2.5 2.5l-2.5 -2.5zM331.6 446.2l2.5 2.5l-2.5 2.5l-2.5 -2.5zM320.8 454l2.5 2.5l-2.5 2.5l-2.5 -2.5zM338.4 453.9l2.5 2.5l-2.5 2.5l-2.5 -2.5zM332 461.8l2.5 2.5l-2.5 2.5l-2.5 -2.5zM335.6 469.7l2.5 2.5l-2.5 2.5l-2.5 -2.5zM356.7 469.7l2.5 2.5l-2.5 2.5l-2.5 -2.5zM358.6 469.7l2.5 2.5l-2.5 2.5l-2.5 -2.5zM343.1 485.5l2.5 2.5l-2.5 2.5l-2.5 -2.5zM352.1 489.3l2.5 2.5l-2.5 2.5l-2.5 -2.5zM371.3 485.5l2.5 2.5l-2.5 2.5l-2.5 -2.5zM375.8 486.9l2.5 2.5l-2.5 2.5l-2.5 -2.5zM379.3 485.5l2.5 2.5l-2.5 2.5l-2.5 -2.5zM368.7 505l2.5 2.5l-2.5 2.5l-2.5 -2.5zM370.8 505l2.5 2.5l-2.5 2.5l-2.5 -2.5zM373 505l2.5 2.5l-2.5 2.5l-2.5 -2.5zM393 505l2.5 2.5l-2.5 2.5l-2.5 -2.5zM419.5 505l2.5 2.5l-2.5 2.5l-2.5 -2.5zM425.4 505l2.5 2.5l-2.5 2.5l-2.5 -2.5zM427.2 505l2.5 2.5l-2.5 2.5l-2.5 -2.5zM435.2 505l2.5 2.5l-2.5 2.5l-2.5 -2.5zM446.3 505l2.5 2.5l-2.5 2.5l-2.5 -2.5zM449.4 505l2.5 2.5l-2.5 2.5l-2.5 -2.5zM459.6 505l2.5 2.5l-2.5 2.5l-2.5 -2.5zM467.7 505l2.5 2.5l-2.5 2.5l-2.5 -2.5zM435.2 496.5l2.5 2.5l-2.5 2.5l-2.5 -2.5zM439.5 493.1l2.5 2.5l-2.5 2.5l-2.5 -2.5zM470.3 493.1l2.5 2.5l-2.5 2.5l-2.5 -2.5z" fill="#4674c0"/>
</svg>
</div>
</body></html>
